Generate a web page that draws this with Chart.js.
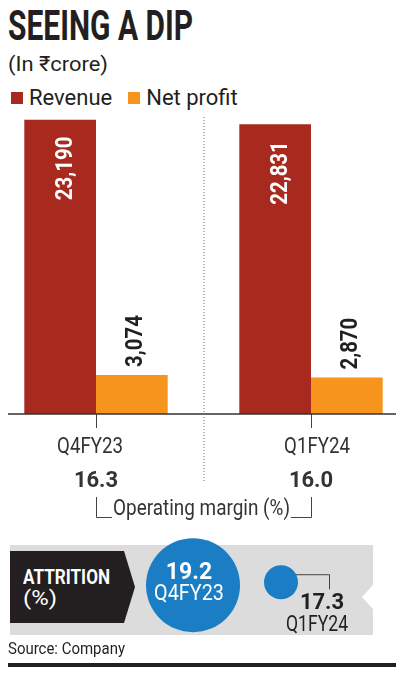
<!DOCTYPE html>
<html>
<head>
<meta charset="utf-8">
<script src="https://cdn.jsdelivr.net/npm/chart.js@4"></script>
<style>
  body { margin: 0; width: 405px; height: 679px; position: relative; overflow: hidden; background: #fff;
         font-family: Roboto, "Noto Sans", sans-serif; color: #231f20; }
  .t { position: absolute; white-space: nowrap; line-height: 1; transform-origin: 0 0; }
  .box { position: absolute; }
  #legend { position: absolute; left: 11px; top: 87px; display: flex; align-items: center; font-size: 22px; line-height: 22px; }
  #legend span.sq { width: 12px; height: 12px; display: inline-block; }
  #legend span.lb { margin: 0 16px 0 6px; }
</style>
</head>
<body>
<div class="t" data-w="185" style="left:8px;top:5px;font-size:42px;font-weight:700">SEEING A DIP</div>
<div class="t" data-w="100" style="left:8px;top:54px;font-size:21px">(In ₹crore)</div>
<div id="legend"></div>

<div class="box" style="left:0;top:100px;width:405px;height:430px"><canvas id="bars"></canvas></div>

<!-- attrition strip -->
<div class="box" style="left:10px;top:545px;width:363px;height:90px;background:#dcdcdc;clip-path:polygon(0 0,363px 0,363px 40px,352px 52px,363px 64px,363px 90px,0 90px)"></div>
<div class="box" style="left:10px;top:551px;width:125px;height:72px;background:#231f20;clip-path:polygon(0 0,114px 0,125px 36px,114px 72px,0 72px)"></div>
<div class="t" data-w="87" style="left:23px;top:567px;font-size:21px;font-weight:700;color:#fff">ATTRITION</div>
<div class="t" data-w="34" style="left:23px;top:588px;font-size:21px;color:#fff">(%)</div>
<div class="box" style="left:0;top:530px;width:405px;height:110px"><canvas id="attr"></canvas></div>

<div class="t" data-w="117" style="left:8px;top:641px;font-size:16px">Source: Company</div>
<div class="box" style="left:8px;top:663px;width:388px;height:4px;background:#231f20"></div>

<script>
const categories = ['Q4FY23', 'Q1FY24'];
const seriesNames = ['Revenue', 'Net profit'];
const revenue = [23190, 22831];
const netProfit = [3074, 2870];
const operatingMargin = [16.3, 16.0];
const attrition = [19.2, 17.3];

const seriesColors = ['#a82a1f', '#f7941e'];
const blue = '#1b7dc4';
const ink = '#231f20';

// legend from the series
const legend = document.getElementById('legend');
seriesNames.forEach((name, i) => {
  legend.insertAdjacentHTML('beforeend',
    '<span class="sq" style="background:' + seriesColors[i] + '"></span><span class="lb">' + name + '</span>');
});

// condensed look: squeeze html text to the widths in the picture
function squeeze() {
  document.querySelectorAll('[data-w]').forEach(el => {
    el.style.transform = '';
    const w = el.getBoundingClientRect().width;
    el.style.transform = 'scaleX(' + (el.dataset.w / w) + ')';
  });
}
squeeze();

// draw text squeezed horizontally
function say(ctx, s, x, y, font, color, align, sx, baseline) {
  ctx.save();
  ctx.font = font;
  ctx.fillStyle = color;
  ctx.textAlign = 'left';
  ctx.textBaseline = baseline || 'alphabetic';
  const w = ctx.measureText(s).width * sx;
  const left = align === 'center' ? x - w / 2 : align === 'right' ? x - w : x;
  ctx.translate(left, y);
  ctx.scale(sx, 1);
  ctx.fillText(s, 0, 0);
  ctx.restore();
  return w;
}

const fmt = v => v.toLocaleString('en-US');

const barExtras = {
  id: 'barExtras',
  afterDatasetsDraw(chart) {
    const ctx = chart.ctx;
    // value labels, rotated
    chart.data.datasets.forEach((ds, di) => {
      chart.getDatasetMeta(di).data.forEach((bar, i) => {
        ctx.save();
        ctx.translate(bar.x, bar.y);
        ctx.rotate(-Math.PI / 2);
        if (di === 0) {
          say(ctx, fmt(ds.data[i]), -17, 11.5, 'bold 24px Roboto', '#fff', 'right', 0.85);
        } else {
          say(ctx, fmt(ds.data[i]), 8, 10.5, 'bold 24px Roboto', ink, 'left', 0.85);
        }
        ctx.restore();
      });
    });
  },
  afterDraw(chart) {
    const ctx = chart.ctx;
    const xs = chart.scales.x;
    const bottom = chart.chartArea.bottom;
    const px = categories.map((c, i) => xs.getPixelForValue(i));

    ctx.save();
    // base line across the panel
    ctx.strokeStyle = '#333';
    ctx.lineWidth = 1.5;
    ctx.beginPath();
    ctx.moveTo(8, bottom);
    ctx.lineTo(396, bottom);
    ctx.stroke();

    // dotted divider
    ctx.strokeStyle = '#666';
    ctx.lineWidth = 1;
    ctx.setLineDash([1, 2]);
    const mid = (px[0] + px[1]) / 2;
    ctx.beginPath();
    ctx.moveTo(mid + 0.5, 17);
    ctx.lineTo(mid + 0.5, 382);
    ctx.stroke();
    ctx.setLineDash([]);

    // category labels and margins
    px.forEach((x, i) => {
      const nudge = i === 0 ? -6 : 6;
      say(ctx, categories[i], x + nudge, 353, '22px Roboto', '#333', 'center', 0.85);
      say(ctx, operatingMargin[i].toFixed(1), x, 387, 'bold 22px Roboto', '#333', 'center', 1);
    });

    // bracket with caption
    const cap = 'Operating margin (%)';
    ctx.font = '22px Roboto';
    const tw = ctx.measureText(cap).width * 0.86;
    const cx = mid - 2;
    say(ctx, cap, cx, 415, '22px Roboto', '#333', 'center', 0.86);
    ctx.strokeStyle = '#444';
    ctx.lineWidth = 1;
    ctx.beginPath();
    ctx.moveTo(px[0] + 0.5, 397);
    ctx.lineTo(px[0] + 0.5, 417.5);
    ctx.lineTo(cx - tw / 2 - 1, 417.5);
    ctx.moveTo(cx + tw / 2 + 1, 417.5);
    ctx.lineTo(px[1] + 0.5, 417.5);
    ctx.lineTo(px[1] + 0.5, 397);
    ctx.stroke();
    ctx.restore();
  }
};

new Chart(document.getElementById('bars'), {
  type: 'bar',
  data: {
    labels: categories,
    datasets: [
      { label: seriesNames[0], data: revenue, backgroundColor: seriesColors[0], borderWidth: 0, clip: false },
      { label: seriesNames[1], data: netProfit, backgroundColor: seriesColors[1], borderWidth: 0, clip: false }
    ]
  },
  options: {
    responsive: true,
    maintainAspectRatio: false,
    animation: false,
    events: [],
    layout: { padding: { left: 96, right: 94, top: 17, bottom: 0 } },
    datasets: { bar: { categoryPercentage: 0.667, barPercentage: 1 } },
    plugins: { legend: { display: false }, tooltip: { enabled: false } },
    scales: {
      x: {
        offset: false,
        border: { display: false },
        grid: { offset: false, drawOnChartArea: false, drawTicks: true, tickLength: 14, color: '#444' },
        ticks: { display: false },
        afterFit: s => { s.height = 116; }
      },
      y: { display: false, min: 0, max: 23400 }
    }
  },
  plugins: [barExtras]
});

const attrLabels = {
  id: 'attrLabels',
  afterDatasetsDraw(chart) {
    const ctx = chart.ctx;
    const pts = chart.getDatasetMeta(0).data;
    const big = pts[0], small = pts[1];
    say(ctx, attrition[0].toFixed(1), big.x - 4, big.y - 6, 'bold 23px Roboto', '#fff', 'center', 1);
    say(ctx, categories[0], big.x - 4, big.y + 15, '22px Roboto', '#fff', 'center', 0.9);

    ctx.save();
    ctx.strokeStyle = '#444';
    ctx.lineWidth = 1;
    ctx.beginPath();
    ctx.moveTo(small.x + 15, small.y - 7.5);
    ctx.lineTo(small.x + 48.5, small.y - 7.5);
    ctx.lineTo(small.x + 48.5, small.y + 7);
    ctx.stroke();
    ctx.restore();
    say(ctx, attrition[1].toFixed(1), small.x + 41, small.y + 27, 'bold 22px Roboto', ink, 'center', 1);
    say(ctx, categories[1], small.x + 36, small.y + 49, '22px Roboto', ink, 'center', 0.8);
  }
};

new Chart(document.getElementById('attr'), {
  type: 'line',
  data: {
    labels: categories,
    datasets: [{
      data: attrition,
      showLine: false,
      pointRadius: [47, 17],
      pointHoverRadius: [47, 17],
      pointBackgroundColor: blue,
      pointBorderWidth: 0,
      clip: false
    }]
  },
  options: {
    responsive: true,
    maintainAspectRatio: false,
    animation: false,
    events: [],
    layout: { padding: { left: 193, right: 124, top: 0, bottom: 0 } },
    plugins: { legend: { display: false }, tooltip: { enabled: false } },
    scales: {
      x: { display: false, offset: false },
      y: { display: false, reverse: true, min: 13.9, max: 24.3 }
    }
  },
  plugins: [attrLabels]
});
</script>
</body>
</html>
